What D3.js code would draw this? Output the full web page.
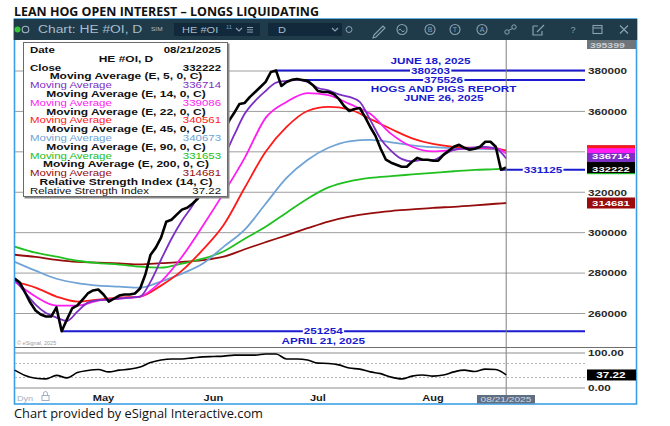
<!DOCTYPE html>
<html>
<head>
<meta charset="utf-8">
<script src="https://cdn.jsdelivr.net/npm/d3@7"></script>
<style>
  body { margin: 0; background: #fff; }
  svg { display: block; }
</style>
</head>
<body>
<svg id="chart" width="670" height="426"></svg>
<script>
// ---- data (bar 0 = Apr 7 2025, bar 94 = Aug 21 2025) ----
const title = "LEAN HOG OPEN INTEREST \u2013 LONGS LIQUIDATING";
const credit = "Chart provided by eSignal Interactive.com";

const closeValues = [
  277300, 275300, 270400, 265400, 261500, 259500, 258500, 258500, 263000, 251254,
  257000, 262500, 264000, 266900, 269900, 271400, 271900, 269400, 265900, 267400,
  268900, 269400, 269400, 269900, 272400, 279300, 289100, 292600, 297500, 305400,
  306400, 308900, 311400, 312300, 314300, 316800, 321200, 330100, 337000, 343500,
  349900, 355300, 359300, 363700, 364200, 367200, 369600, 372100, 374600, 379500,
  380203, 372600, 374600, 375600, 376000, 375526, 375100, 373100, 370100, 369600,
  369600, 368600, 366200, 362700, 360200, 361200, 361700, 357300, 352300, 347900,
  341500, 336100, 334600, 333600, 332600, 332600, 335100, 337000, 336100, 336100,
  335600, 335600, 338500, 340500, 342500, 343500, 342000, 341000, 341500, 342500,
  345000, 345000, 342500, 331125, 332222
];

// every other bar (fast series)
const fastBars = d3.range(0, 95, 2);
const ema5 = [
  277200, 270300, 264400, 260200, 258000, 256300, 260900, 265400, 266600, 266900,
  267400, 267900, 268400, 275800, 286600, 297000, 305900, 313300, 322200, 330100,
  337500, 348400, 358800, 365200, 370100, 374300, 375100, 375600, 374600, 371600,
  370400, 368400, 367200, 364700, 355800, 346400, 340500, 336500, 335300, 336000,
  336000, 338500, 341000, 341700, 342200, 342500, 341700, 336714
];
const rsi14 = [
  51, 36, 28, 26, 36, 29, 44, 50, 53, 46,
  51, 54, 60, 73, 80, 83, 83, 86, 89, 90,
  91, 94, 94, 94, 97, 97, 83, 83, 80, 71,
  70, 66, 57, 54, 46, 41, 31, 26, 34, 37,
  34, 37, 46, 51, 47, 54, 53, 37.22
];

// every fourth bar (slower averages)
const maBars = [0, 4, 8, 12, 16, 20, 24, 28, 32, 36, 40, 44, 48, 52, 56, 60, 64, 68, 72, 76, 80, 84, 88, 92, 94];
const ema14 = [275800, 268400, 263900, 263900, 266400, 267400, 268400, 275800, 288100, 303400, 319700, 337000, 356800,
  364700, 369100, 368100, 363700, 358800, 348900, 342500, 340200, 341000, 342000, 342000, 339086];
const ema22 = [275800, 272800, 268400, 265900, 266900, 267900, 268400, 273800, 281200, 291600, 303900, 322200, 340000,
  352300, 360200, 362200, 361000, 356300, 351300, 346700, 343900, 342500, 342000, 341700, 340561];
const ema45 = [285600, 281200, 277200, 275000, 273800, 273300, 272800, 275800, 279700, 284700, 293100, 301500, 314300,
  327100, 336000, 342000, 345200, 345900, 344700, 343200, 342300, 341800, 341500, 341200, 340673];
const ema90 = [293100, 290100, 288100, 286100, 284900, 284200, 283200, 282700, 284700, 287100, 290800, 297000, 302900,
  309900, 316800, 322400, 325400, 327100, 328000, 328800, 329600, 330400, 331100, 331400, 331653];
const ema200 = [289100, 288000, 286500, 285500, 285200, 284800, 284300, 284900, 285500, 286400, 288100, 291800, 295300,
  298700, 302200, 305500, 307900, 309600, 310700, 311500, 312300, 312800, 313500, 314300, 314681];

const maPeriods = [5, 14, 22, 45, 90, 200];
const maColors = ["#7b2fc4", "#ff1cf0", "#ff1a1a", "#6fa3d6", "#20c020", "#960c0c"];

const priceTicks = [260000, 280000, 300000, 320000, 340000, 360000, 380000];
const chartHigh = 395399;
const months = ["May", "Jun", "Jul", "Aug"];
const monthBars = [17, 38, 58, 80];
const lastDate = "08/21/2025";

const noteValues = [380203, 375526, 251254, 331125];
const noteBars = [50, 55, 9, 93];
const noteAbove = [["JUNE 18, 2025"], [], [], []];
const noteBelow = [[], ["HOGS AND PIGS REPORT", "JUNE 26, 2025"], ["APRIL 21, 2025"], []];

// ---- layout ----
const svg = d3.select("#chart");
const SANS = "Liberation Sans, Arial, sans-serif";
const PL = 15, PR = 585, FR = 636;
const K = 1.3; // eSignal text looks horizontally stretched

const x = d3.scaleLinear().domain([0, 94]).range([14.6, 506.2]);
const y = d3.scaleLinear().domain([260000, 380000]).range([313.5, 71]);
const yR = d3.scaleLinear().domain([0, 100]).range([388, 353]);

function stretch(sel, k) {
  sel.each(function () {
    const w = this.getComputedTextLength();
    d3.select(this).attr("textLength", w * k).attr("lengthAdjust", "spacingAndGlyphs");
  });
  return sel;
}

function label(g, tx, ty, str, opt = {}) {
  const t = g.append("text")
    .attr("x", tx).attr("y", ty)
    .attr("font-family", opt.family || SANS)
    .attr("font-size", opt.size || 9)
    .attr("font-weight", opt.weight || 700)
    .attr("fill", opt.fill || "#222")
    .attr("text-anchor", opt.anchor || "start")
    .text(str);
  return stretch(t, opt.k || K);
}

// title + credit
svg.append("text").attr("x", 14).attr("y", 15.5)
  .attr("font-family", "Open Sans, sans-serif").attr("font-weight", 700).attr("font-size", 12.6)
  .attr("fill", "#111").attr("textLength", 305).attr("lengthAdjust", "spacingAndGlyphs").text(title);
svg.append("text").attr("x", 14).attr("y", 417.5)
  .attr("font-family", "Open Sans, sans-serif").attr("font-size", 12.4)
  .attr("fill", "#111").attr("textLength", 249).attr("lengthAdjust", "spacingAndGlyphs").text(credit);

// window frame
svg.append("rect").attr("x", 14.5).attr("y", 19).attr("width", FR - 14).attr("height", 385)
  .attr("fill", "#fff").attr("stroke", "#3b9fe6").attr("stroke-width", 1.6);

// toolbar
const tb = svg.append("g");
tb.append("rect").attr("x", 13.7).attr("y", 19).attr("width", FR - 12.5).attr("height", 21).attr("fill", "#1f3b4a");
tb.append("circle").attr("cx", 17.5).attr("cy", 29.5).attr("r", 3).attr("fill", "#37c437");
tb.append("circle").attr("cx", 25.5).attr("cy", 29.5).attr("r", 3.3).attr("fill", "none").attr("stroke", "#a2b6c3").attr("stroke-width", 1.1);
label(tb, 38, 33.3, "Chart: HE #OI, D", { weight: 400, fill: "#a9bdcb", size: 10, k: 1.38 });
label(tb, 151, 31, "SIM", { weight: 400, fill: "#a9bdcb", size: 5 });
tb.append("rect").attr("x", 174).attr("y", 23).attr("width", 86).attr("height", 13).attr("fill", "#11293a");
label(tb, 182, 33, "HE #OI", { weight: 400, fill: "#a9bdcb", size: 8.5 });
label(tb, 226, 29, "11", { weight: 400, fill: "#5d9bd6", size: 4.5 });
tb.append("rect").attr("x", 268).attr("y", 23).attr("width", 74).attr("height", 13).attr("fill", "#11293a");
label(tb, 278, 33, "D", { weight: 400, fill: "#a9bdcb", size: 8.5 });
const ic = "#8aa1b2";
[239, 335].forEach(cx => tb.append("path").attr("d", `M${cx - 3},28 l3,3 l3,-3`).attr("fill", "none").attr("stroke", ic).attr("stroke-width", 1.2));
[27.5, 29.8, 32.1].forEach(yy => tb.append("line").attr("x1", 247).attr("x2", 253).attr("y1", yy).attr("y2", yy).attr("stroke", ic));
tb.append("circle").attr("cx", 349).attr("cy", 29.5).attr("r", 3).attr("fill", "none").attr("stroke", ic);
tb.append("path").attr("d", "M374,35 l9,-9 l2,2 l-9,9 l-3,1 z").attr("fill", "none").attr("stroke", ic).attr("stroke-width", 1.1);
tb.append("circle").attr("cx", 402).attr("cy", 29.5).attr("r", 5).attr("fill", "none").attr("stroke", ic).attr("stroke-width", 1.1);
tb.append("path").attr("d", "M398.5,30.5 q1.5,-3 3,0 t3,0").attr("fill", "none").attr("stroke", ic);
[[430, "B"], [455, "T"], [482, "A"]].forEach(([cx, s]) => {
  tb.append("circle").attr("cx", cx).attr("cy", 29.5).attr("r", 5).attr("fill", "none").attr("stroke", ic).attr("stroke-width", 1.1);
  tb.append("text").attr("x", cx).attr("y", 32.2).attr("text-anchor", "middle").attr("font-family", SANS)
    .attr("font-size", 7).attr("fill", ic).text(s);
});
tb.append("circle").attr("cx", 507).attr("cy", 32).attr("r", 2.2).attr("fill", "none").attr("stroke", ic);
tb.append("circle").attr("cx", 514).attr("cy", 27).attr("r", 2.2).attr("fill", "none").attr("stroke", ic);
tb.append("line").attr("x1", 508.5).attr("y1", 30.5).attr("x2", 512.5).attr("y2", 28.5).attr("stroke", ic);
tb.append("path").attr("d", "M533,26 h5 M533,26 v9 h9 v-4 M537,32 l7,-7").attr("fill", "none").attr("stroke", ic).attr("stroke-width", 1.2);
tb.append("text").attr("x", 573).attr("y", 33).attr("text-anchor", "middle").attr("font-family", SANS)
  .attr("font-size", 9).attr("fill", ic).text("?");
tb.append("rect").attr("x", 593).attr("y", 25.5).attr("width", 9).attr("height", 8).attr("fill", "none").attr("stroke", ic).attr("stroke-width", 1.1);
tb.append("line").attr("x1", 593).attr("x2", 602).attr("y1", 28).attr("y2", 28).attr("stroke", ic);
tb.append("path").attr("d", "M620,25.5 l8,8 M628,25.5 l-8,8").attr("stroke", ic).attr("stroke-width", 1.2);

// ---- price panel ----
const price = svg.append("g");
price.selectAll("line.grid").data(priceTicks).join("line")
  .attr("x1", PL).attr("x2", PR).attr("y1", d => y(d)).attr("y2", d => y(d))
  .attr("stroke", "#9d9d9d").attr("stroke-width", 1);

svg.append("clipPath").attr("id", "plotClip")
  .append("rect").attr("x", PL).attr("y", 40).attr("width", PR - PL).attr("height", 307);
const plot = price.append("g").attr("clip-path", "url(#plotClip)");

// annotation lines
noteValues.forEach((v, i) => {
  plot.append("line").attr("x1", x(noteBars[i])).attr("x2", PR)
    .attr("y1", y(v)).attr("y2", y(v)).attr("stroke", "#1a1ad0").attr("stroke-width", 2);
});

const maSeries = [
  { bars: maBars, vals: ema200 }, { bars: maBars, vals: ema90 }, { bars: maBars, vals: ema45 },
  { bars: maBars, vals: ema22 }, { bars: maBars, vals: ema14 }, { bars: fastBars, vals: ema5 }
];
const maIdx = [5, 4, 3, 2, 1, 0];
const smooth = d3.line().x(d => x(d[0])).y(d => y(d[1])).curve(d3.curveMonotoneX);
maSeries.forEach((s, j) => {
  plot.append("path")
    .attr("d", smooth(s.bars.map((b, i) => [b, s.vals[i]])))
    .attr("fill", "none").attr("stroke", maColors[maIdx[j]]).attr("stroke-width", 1.8);
});

plot.append("path")
  .attr("d", d3.line().x((d, i) => x(i)).y(d => y(d))(closeValues))
  .attr("fill", "none").attr("stroke", "#000").attr("stroke-width", 2.6)
  .attr("stroke-linejoin", "round");

// cursor line
svg.append("line").attr("x1", x(94)).attr("x2", x(94)).attr("y1", 40).attr("y2", 395)
  .attr("stroke", "#7d7d7d").attr("stroke-width", 1);

// annotation labels
const NOTE = { fill: "#1a1ad0", anchor: "middle", size: 8.6, k: 1.36 };
noteValues.forEach((v, i) => {
  const mid = (x(noteBars[i]) + PR) / 2;
  const t = label(svg, mid, y(v) + 3, String(v), NOTE);
  const bb = t.node().getBBox();
  svg.insert("rect", () => t.node()).attr("x", bb.x - 1).attr("y", bb.y + 1.5).attr("width", bb.width + 2)
    .attr("height", bb.height - 3).attr("fill", "#fff");
  noteAbove[i].forEach((s, k) => label(svg, mid, y(v) - 6.5 - 9 * k, s, NOTE));
  noteBelow[i].forEach((s, k) => label(svg, mid, y(v) + 12.4 + 9 * k, s, NOTE));
});

// ---- legend box ----
const lg = svg.append("g");
lg.append("rect").attr("x", 24.5).attr("y", 43.5).attr("width", 205).attr("height", 155).attr("fill", "#8a8a8a");
lg.append("rect").attr("x", 23.5).attr("y", 42.5).attr("width", 204).attr("height", 154)
  .attr("fill", "#fff").attr("stroke", "#6a6a6a");
const maLast = [ema5, ema14, ema22, ema45, ema90, ema200].map(a => a[a.length - 1]);
const rows = [
  { l: "Date", r: lastDate },
  { c: "HE #OI, D" },
  { l: "Close", r: String(closeValues[closeValues.length - 1]) }
];
maPeriods.forEach((p, i) => {
  rows.push({ c: `Moving Average (E, ${p}, 0, C)` });
  rows.push({ l: "Moving Average", r: String(maLast[i]), color: maColors[i] });
});
rows.push({ c: "Relative Strength Index (14, C)" });
rows.push({ l: "Relative Strength Index", r: String(rsi14[rsi14.length - 1]), plain: true });

rows.forEach((row, i) => {
  const by = 53 + i * 8.8;
  if (row.c) {
    label(lg, 126, by, row.c, { anchor: "middle", k: 1.36, fill: "#111", size: 8.8 });
  } else {
    const w = row.color || row.plain ? 400 : 700;
    label(lg, 30, by, row.l, { weight: w, fill: row.color || "#111", k: 1.3, size: 8.8 });
    label(lg, 221, by, row.r, { weight: w, fill: row.color || "#111", anchor: "end", k: 1.3, size: 8.8 });
  }
});

// last-value boxes, stacked the way eSignal draws them (only the front ones keep a readable value)
const boxes = [
  { v: maLast[3], c: maColors[3] }, { v: maLast[2], c: maColors[2] }, { v: maLast[1], c: maColors[1] },
  { v: maLast[0], c: maColors[0], txt: true, dy: -2 }, { v: maLast[4], c: maColors[4] },
  { v: closeValues[closeValues.length - 1], c: "#000", txt: true, dy: 1.4 }, { v: maLast[5], c: "#9a0b0b", txt: true, dy: 0 }
];
const boxTop = d3.min(boxes.slice(0, 6), b => y(b.v)) - 5.5;
const boxBottom = d3.max(boxes.slice(0, 6), b => y(b.v)) + 5.5;

// ---- right axis (ticks hidden by the value boxes are not printed, as in eSignal) ----
priceTicks.filter(v => y(v) < boxTop - 3 || y(v) > boxBottom + 3)
  .forEach(v => label(svg, 588, y(v) + 3.3, String(v), { fill: "#2a2a2a" }));
svg.append("rect").attr("x", 587).attr("y", 40).attr("width", 49).attr("height", 9).attr("fill", "#6e757b");
label(svg, 590, 47.5, String(chartHigh), { fill: "#c9ced3", size: 8 });

boxes.forEach(b => {
  svg.append("rect").attr("x", 587).attr("y", y(b.v) - 5.5).attr("width", 48).attr("height", 11).attr("fill", b.c);
});
boxes.filter(b => b.txt).forEach(b => {
  label(svg, 611, y(b.v) + 2.9 + b.dy, String(b.v), { fill: "#fff", anchor: "middle", size: 7.8, k: 1.45 });
});

// ---- RSI panel ----
svg.append("line").attr("x1", PL).attr("x2", FR).attr("y1", 347.5).attr("y2", 347.5).attr("stroke", "#6f6f6f");
svg.append("text").attr("x", 17).attr("y", 345).attr("font-family", SANS).attr("font-size", 5.5)
  .attr("fill", "#9a9a9a").text("\u00a9 eSignal, 2025");
[0, 100].forEach(v => svg.append("line").attr("x1", PL).attr("x2", PR).attr("y1", yR(v)).attr("y2", yR(v))
  .attr("stroke", "#8d8d8d"));
[30, 70].forEach(v => svg.append("line").attr("x1", PL).attr("x2", PR).attr("y1", yR(v)).attr("y2", yR(v))
  .attr("stroke", "#b5b5b5").attr("stroke-dasharray", "2,2"));
[100, 0].forEach(v => label(svg, 588, yR(v) + 3.3, v.toFixed(2), { fill: "#2a2a2a" }));

svg.append("path")
  .attr("d", d3.line().x((d, i) => x(fastBars[i])).y(d => yR(d)).curve(d3.curveMonotoneX)(rsi14))
  .attr("fill", "none").attr("stroke", "#000").attr("stroke-width", 1.6);

svg.append("rect").attr("x", 587).attr("y", yR(37.22) - 5.5).attr("width", 49).attr("height", 11).attr("fill", "#000");
label(svg, 611, yR(37.22) + 3.3, "37.22", { fill: "#fff", anchor: "middle" });

// ---- time axis ----
months.forEach((m, i) => label(svg, x(monthBars[i]), 401, m, { anchor: "middle", fill: "#1a1a1a", size: 8.5 }));
label(svg, 17, 400.5, "Dyn", { weight: 400, fill: "#9fb0c2", size: 7 });
svg.append("rect").attr("x", 42).attr("y", 395.5).attr("width", 7).attr("height", 5).attr("fill", "none").attr("stroke", "#9fb0c2");
svg.append("path").attr("d", "M43.5,395.5 v-2 a2,2 0 0 1 4,0 v2").attr("fill", "none").attr("stroke", "#9fb0c2");
svg.append("rect").attr("x", 477).attr("y", 395).attr("width", 58).attr("height", 8.5).attr("fill", "#5e6f84");
label(svg, 506, 402.3, lastDate, { anchor: "middle", weight: 400, fill: "#d4dae2", size: 7.8 });
</script>
</body>
</html>
